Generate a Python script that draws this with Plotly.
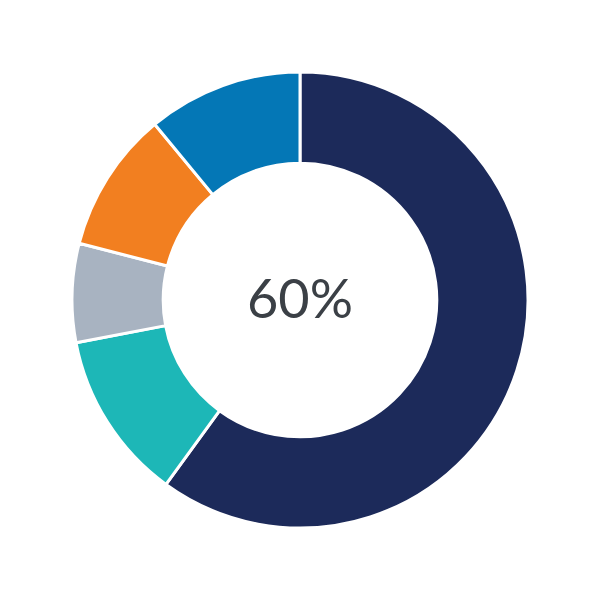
import plotly.graph_objects as go

labels = ["Navy", "Teal", "Gray", "Orange", "Blue"]
values = [60, 12, 7, 10, 11]
colors = ["#1c2a5a", "#1db7b7", "#a8b3c1", "#f27f20", "#0477b6"]
center_text = "60%"

fig = go.Figure()
fig.add_trace(go.Pie(
        labels=labels,
        values=values,
        hole=0.6,
        sort=False,
        direction="clockwise",
        rotation=0,
        textinfo="none",
        hoverinfo="label+percent",
        marker=dict(
            colors=colors,
            line=dict(color="white", width=3)
        ),
        showlegend=False
    )
)

# page body adds ~8px offset, so shift the domain up/left
fig.update_layout(
    width=600,
    height=600,
    margin=dict(l=64, r=80, t=64, b=80),
    paper_bgcolor="white",
    plot_bgcolor="white",
    annotations=[dict(
        text=center_text,
        x=0.5,
        y=0.505,
        xref="paper",
        yref="paper",
        showarrow=False,
        font=dict(family="Lato", size=54, color="#3b4046")
    )]
)

fig.write_html("out.html")
